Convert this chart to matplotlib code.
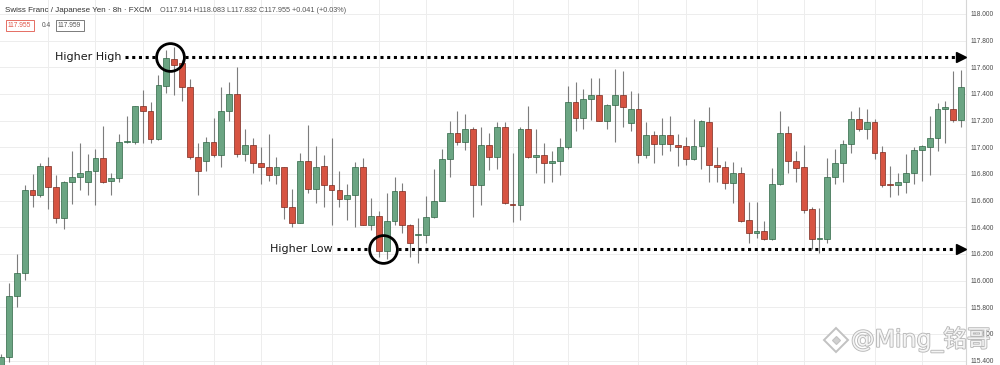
import matplotlib
matplotlib.use("Agg")
import matplotlib.pyplot as plt
import matplotlib.patheffects as pe
import numpy as np

plt.rcParams['font.family'] = ['DejaVu Sans', 'Noto Sans CJK SC']

# CHF/JPY 8h candles
opens = [115.30, 115.425, 115.885, 116.055, 116.68, 116.64, 116.86, 116.70, 116.47, 116.74,
         116.775, 116.74, 116.82, 116.92, 116.75, 116.77, 117.04, 117.04, 117.31, 117.275,
         117.06, 117.46, 117.66, 117.63, 117.45, 116.93, 116.90, 117.04, 116.94, 117.27,
         117.40, 116.95, 117.02, 116.88, 116.85, 116.79, 116.85, 116.55, 116.435, 116.90,
         116.69, 116.86, 116.72, 116.68, 116.61, 116.64, 116.85, 116.42, 116.485, 116.225,
         116.45, 116.67, 116.42, 116.345, 116.34, 116.475, 116.60, 116.91, 117.11, 117.04,
         117.14, 116.72, 117.02, 116.925, 117.15, 116.575, 116.565, 117.135, 116.925, 116.94,
         116.885, 116.90, 117.00, 117.34, 117.22, 117.36, 117.39, 117.20, 117.32, 117.39,
         117.185, 117.29, 116.94, 117.09, 117.025, 117.09, 117.02, 117.01, 116.91, 117.01,
         117.19, 116.87, 116.85, 116.73, 116.81, 116.455, 116.36, 116.375, 116.31, 116.725,
         117.105, 116.90, 116.85, 116.535, 116.31, 116.31, 116.775, 116.88, 117.025, 117.21,
         117.14, 117.19, 116.965, 116.72, 116.715, 116.74, 116.81, 116.98, 117.005, 117.07,
         117.29, 117.29, 117.205]
highs = [115.45, 115.985, 116.20, 116.72, 116.80, 116.885, 116.925, 116.79, 116.745, 116.97,
         117.03, 116.95, 116.99, 117.16, 116.805, 117.10, 117.235, 117.31, 117.43, 117.34,
         117.54, 117.73, 117.755, 117.655, 117.51, 117.035, 117.075, 117.22, 117.455, 117.49,
         117.60, 117.135, 117.07, 117.00, 117.10, 116.93, 116.855, 116.69, 116.955, 117.17,
         117.01, 116.94, 117.07, 116.825, 116.725, 116.89, 116.92, 116.62, 116.52, 116.66,
         116.78, 116.735, 116.425, 116.47, 116.635, 116.835, 116.985, 117.20, 117.275, 117.25,
         117.15, 117.155, 117.105, 117.19, 117.19, 116.955, 117.15, 117.31, 117.135, 117.03,
         116.97, 117.07, 117.46, 117.49, 117.435, 117.52, 117.52, 117.325, 117.59, 117.57,
         117.42, 117.405, 117.19, 117.12, 117.22, 117.235, 117.10, 117.08, 117.21, 117.205,
         117.30, 117.005, 116.90, 116.89, 116.85, 116.59, 116.59, 116.45, 116.845, 117.275,
         117.16, 116.97, 117.02, 116.55, 116.545, 116.92, 116.985, 117.055, 117.275, 117.30,
         117.29, 117.21, 117.01, 116.86, 116.81, 116.95, 117.005, 117.015, 117.235, 117.335,
         117.35, 117.57, 117.58]
lows = [115.28, 115.39, 115.805, 116.005, 116.555, 116.625, 116.54, 116.435, 116.39, 116.575,
        116.68, 116.64, 116.57, 116.73, 116.64, 116.74, 117.03, 117.025, 117.03, 117.03,
        117.055, 117.405, 117.39, 117.35, 116.91, 116.64, 116.825, 116.925, 116.85, 117.20,
        116.93, 116.90, 116.81, 116.725, 116.75, 116.725, 116.46, 116.40, 116.43, 116.66,
        116.585, 116.555, 116.42, 116.555, 116.455, 116.40, 116.42, 116.38, 116.18, 116.16,
        116.42, 116.36, 116.175, 116.135, 116.28, 116.47, 116.595, 116.78, 117.015, 116.98,
        116.48, 116.57, 116.83, 116.84, 116.575, 116.44, 116.455, 116.92, 116.805, 116.735,
        116.74, 116.79, 116.99, 117.12, 117.135, 117.205, 117.195, 117.135, 117.04, 117.155,
        117.125, 116.885, 116.92, 116.88, 116.94, 116.97, 116.86, 116.865, 116.905, 116.835,
        116.74, 116.74, 116.69, 116.58, 116.44, 116.28, 116.32, 116.305, 116.305, 116.72,
        116.805, 116.74, 116.505, 116.24, 116.205, 116.28, 116.725, 116.74, 116.955, 117.12,
        117.06, 116.91, 116.705, 116.63, 116.64, 116.655, 116.725, 116.75, 116.79, 116.975,
        117.03, 117.19, 117.155]
closes = [115.43, 115.885, 116.055, 116.68, 116.64, 116.86, 116.70, 116.47, 116.74, 116.775,
          116.805, 116.82, 116.92, 116.74, 116.77, 117.04, 117.045, 117.31, 117.275, 117.06,
          117.47, 117.67, 117.62, 117.45, 116.925, 116.825, 117.04, 116.94, 117.27, 117.40,
          116.95, 117.02, 116.88, 116.85, 116.79, 116.85, 116.55, 116.435, 116.90, 116.69,
          116.85, 116.72, 116.68, 116.61, 116.64, 116.85, 116.42, 116.485, 116.225, 116.45,
          116.67, 116.42, 116.28, 116.35, 116.475, 116.60, 116.91, 117.11, 117.04, 117.14,
          116.72, 117.02, 116.925, 117.15, 116.58, 116.565, 117.135, 116.925, 116.94, 116.885,
          116.90, 117.00, 117.34, 117.22, 117.36, 117.39, 117.20, 117.32, 117.39, 117.30,
          117.29, 116.94, 117.09, 117.025, 117.09, 117.025, 117.005, 116.91, 117.01, 117.20,
          116.87, 116.85, 116.73, 116.81, 116.45, 116.36, 116.375, 116.31, 116.725, 117.105,
          116.90, 116.845, 116.53, 116.31, 116.32, 116.775, 116.88, 117.025, 117.21, 117.14,
          117.19, 116.96, 116.72, 116.715, 116.74, 116.81, 116.98, 117.01, 117.07, 117.29,
          117.30, 117.205, 117.455]

price_ticks = [115.4, 115.6, 115.8, 116.0, 116.2, 116.4, 116.6, 116.8,
               117.0, 117.2, 117.4, 117.6, 117.8, 118.0]
date_grid = [6, 12, 18, 27, 33, 42, 48, 54, 65, 72, 81, 87, 96, 102, 111, 117]

# support / resistance marks
levels = [117.6775, 116.2375]
level_labels = ['Higher High', 'Higher Low']
circled_at = [21.5, 48.5]
label_end = [15.3, 42.2]

o = np.array(opens)
h = np.array(highs)
l = np.array(lows)
c = np.array(closes)
x = np.arange(len(o))
up = c >= o

fig = plt.figure(figsize=(10, 3.65), dpi=100)
ax = fig.add_axes([0, 0, 0.966, 1])

ax.vlines(x, l, h, color='#7d7d7d', lw=0.8, zorder=2)
body = np.maximum(np.abs(c - o), 0.006)
bottom = np.minimum(o, c)
ax.bar(x[up], body[up], bottom=bottom[up], width=0.74, color='#6ba583',
       edgecolor='#2f6645', lw=0.5, zorder=3)
ax.bar(x[~up], body[~up], bottom=bottom[~up], width=0.74, color='#d75442',
       edgecolor='#7a2a1f', lw=0.5, zorder=3)

for lvl, lab, ctr, tend in zip(levels, level_labels, circled_at, label_end):
    ax.text(tend, lvl, lab, ha='right', va='center', fontsize=8, color='#1a1a1a', zorder=6)
    for a, b in [(tend + 0.45, ctr - 1.9), (ctr + 1.9, 121.4)]:
        ax.plot([a, b], [lvl, lvl], color='black', lw=2.2, ls=(0, (1, 1.2)), zorder=5)
    ax.plot(ctr, lvl, 'o', ms=20, mfc='none', mec='black', mew=2, zorder=6)
    ax.plot(122.0, lvl, '>', ms=7, color='black', clip_on=False, zorder=6)

ax.set_xlim(-0.13, 122.62)
ax.set_ylim(115.367, 118.105)
ax.set_yticks(price_ticks)
ax.set_yticklabels([f'{p:.3f}' for p in price_ticks])
ax.yaxis.tick_right()
ax.tick_params(axis='y', length=0, pad=3.5, labelsize=4.8, labelcolor='#4a4a4a')
for t in ax.get_yticklabels():
    t.set_fontfamily('Liberation Sans')
ax.set_xticks(date_grid)
ax.tick_params(axis='x', length=0, labelbottom=False)
ax.grid(True, color='#ededed', lw=0.7)
ax.set_axisbelow(True)
for s in ['top', 'left', 'bottom']:
    ax.spines[s].set_visible(False)
ax.spines['right'].set_color('#d6d6d6')
ax.spines['right'].set_linewidth(0.8)

# header and watermark in pixel space
ov = fig.add_axes([0, 0, 1, 1], facecolor='none')
ov.set_xlim(0, 1000)
ov.set_ylim(365, 0)
ov.axis('off')
ov.text(5, 10.5, 'Swiss Franc / Japanese Yen · 8h · FXCM', fontsize=5.8, color='#333333',
        va='center', family='Liberation Sans')
ov.text(160, 10.5, 'O117.914 H118.083 L117.832 C117.955 +0.041 (+0.03%)', fontsize=5.2,
        color='#555555', va='center', family='Liberation Sans')
ov.text(8, 25.5, '117.955', fontsize=4.8, color='#e0564a', va='center', family='Liberation Sans',
        bbox=dict(boxstyle='square,pad=0.35', fc='white', ec='#e0564a', lw=0.6))
ov.text(42, 25.5, '0.4', fontsize=4.8, color='#555555', va='center', family='Liberation Sans')
ov.text(58, 25.5, '117.959', fontsize=4.8, color='#555555', va='center', family='Liberation Sans',
        bbox=dict(boxstyle='square,pad=0.35', fc='white', ec='#666666', lw=0.6))

ov.plot(836, 340, 'D', ms=12, mfc='white', mec='#c2c2c2', mew=1.4)
ov.plot(836, 340, 'D', ms=4, mfc='#d0d0d0', mec='#c2c2c2', mew=0.8)
ov.text(851, 340, '@Ming_铭哥', fontsize=17, color='#f5f5f5', va='center',
        path_effects=[pe.withStroke(linewidth=1.3, foreground='#b8b8b8')])

fig.savefig('out.png', dpi=100)
